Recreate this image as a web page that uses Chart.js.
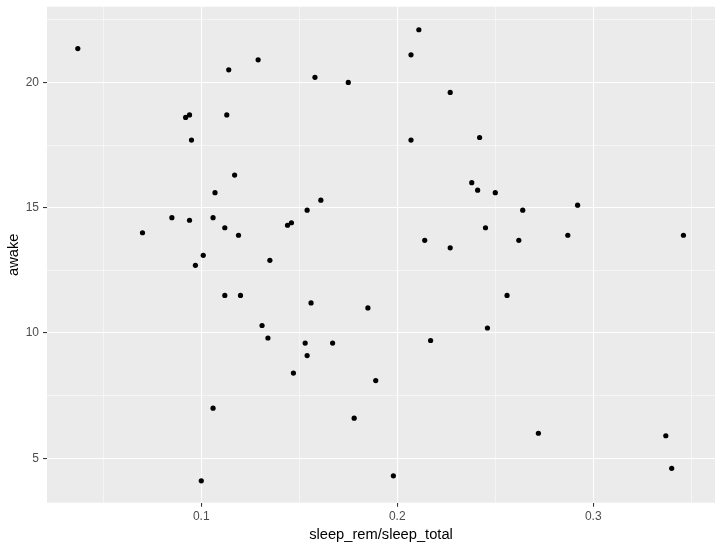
<!DOCTYPE html>
<html>
<head>
<meta charset="utf-8">
<script src="https://cdn.jsdelivr.net/npm/chart.js@4.4.1/dist/chart.umd.min.js"></script>
<style>
  html, body { margin: 0; padding: 0; background: #fff; }
  #wrap { width: 723px; height: 550px; position: relative; }
</style>
</head>
<body>
<div id="wrap"><canvas id="plot"></canvas></div>
<script>
// msleep: sleep_rem/sleep_total against awake
const remRatio = [
  0.037, 0.129, 0.114, 0.092, 0.094, 0.113, 0.095, 0.117, 0.107, 0.085,
  0.094, 0.106, 0.070, 0.112, 0.119, 0.144, 0.146, 0.101, 0.135, 0.097,
  0.112, 0.120, 0.131, 0.134, 0.106, 0.100, 0.211, 0.207, 0.158, 0.175,
  0.227, 0.207, 0.242, 0.238, 0.241, 0.250, 0.161, 0.154, 0.245, 0.214,
  0.227, 0.262, 0.156, 0.185, 0.256, 0.246, 0.153, 0.167, 0.217, 0.154,
  0.147, 0.189, 0.178, 0.198, 0.264, 0.292, 0.287, 0.346, 0.272, 0.337,
  0.340
];
const awake = [
  21.35, 20.9, 20.5, 18.6, 18.7, 18.7, 17.7, 16.3, 15.6, 14.6,
  14.5, 14.6, 14.0, 14.2, 13.9, 14.3, 14.4, 13.1, 12.9, 12.7,
  11.5, 11.5, 10.3, 9.8, 7.0, 4.1, 22.1, 21.1, 20.2, 20.0,
  19.6, 17.7, 17.8, 16.0, 15.7, 15.6, 15.3, 14.9, 14.2, 13.7,
  13.4, 13.7, 11.2, 11.0, 11.5, 10.2, 9.6, 9.6, 9.7, 9.1,
  8.4, 8.1, 6.6, 4.3, 14.9, 15.1, 13.9, 13.9, 6.0, 5.9,
  4.6
];

const xMajor = [0.1, 0.2, 0.3];
const xMinor = [0.05, 0.15, 0.25, 0.35];
const yMajor = [5, 10, 15, 20];
const yMinor = [7.5, 12.5, 17.5, 22.5];

const points = remRatio.map((r, i) => ({ x: r, y: awake[i] }));

const isMajor = (list, v) => list.some(m => Math.abs(m - v) < 1e-9);

// grey ggplot panel behind the grid
const panelBg = {
  id: 'panelBg',
  beforeDraw(chart) {
    const a = chart.chartArea, c = chart.ctx;
    c.save();
    c.fillStyle = '#EBEBEB';
    c.fillRect(a.left, a.top, a.right - a.left, a.bottom - a.top);
    c.restore();
  }
};

const tickFont = { family: '"Liberation Sans", Arial, sans-serif', size: 12 };
const titleFont = { family: '"Liberation Sans", Arial, sans-serif', size: 14.7 };

function gridFor(major) {
  return {
    color: '#FFFFFF',
    lineWidth: c => isMajor(major, c.tick.value) ? 1.07 : 0.53,
    tickColor: c => isMajor(major, c.tick.value) ? '#333333' : 'rgba(0,0,0,0)',
    tickWidth: 1.07,
    tickLength: 4,
    drawTicks: true
  };
}

new Chart(document.getElementById('plot'), {
  type: 'scatter',
  data: {
    datasets: [{
      data: points,
      backgroundColor: '#000000',
      borderWidth: 0,
      pointRadius: 2.6,
      pointHoverRadius: 2.6
    }]
  },
  plugins: [panelBg],
  options: {
    responsive: true,
    maintainAspectRatio: false,
    animation: false,
    layout: { padding: { top: 6.7, right: 8, left: 0, bottom: 0 } },
    plugins: {
      legend: { display: false },
      tooltip: { enabled: false }
    },
    scales: {
      x: {
        type: 'linear',
        min: 0.02128,
        max: 0.3621,
        afterBuildTicks: s => { s.ticks = [...xMinor, ...xMajor].sort((a, b) => a - b).map(v => ({ value: v })); },
        afterFit: s => { s.height = 47.3; s.paddingLeft = 0; s.paddingRight = 0; },
        grid: gridFor(xMajor),
        border: { display: false },
        ticks: {
          color: '#4D4D4D',
          font: tickFont,
          padding: 3,
          maxRotation: 0,
          autoSkip: false,
          callback: v => isMajor(xMajor, v) ? String(v) : ''
        },
        title: {
          display: true,
          text: 'sleep_rem/sleep_total',
          color: '#000000',
          font: titleFont,
          padding: { top: 0, bottom: 6 }
        }
      },
      y: {
        type: 'linear',
        min: 3.229,
        max: 23.02,
        afterBuildTicks: s => { s.ticks = [...yMinor, ...yMajor].sort((a, b) => a - b).map(v => ({ value: v })); },
        afterFit: s => { s.width = 47; s.paddingTop = 0; s.paddingBottom = 0; },
        grid: gridFor(yMajor),
        border: { display: false },
        ticks: {
          color: '#4D4D4D',
          font: tickFont,
          padding: 4,
          autoSkip: false,
          callback: v => isMajor(yMajor, v) ? String(v) : ''
        },
        title: {
          display: true,
          text: 'awake',
          color: '#000000',
          font: titleFont,
          padding: { top: 5, bottom: 0 }
        }
      }
    }
  }
});
</script>
</body>
</html>
